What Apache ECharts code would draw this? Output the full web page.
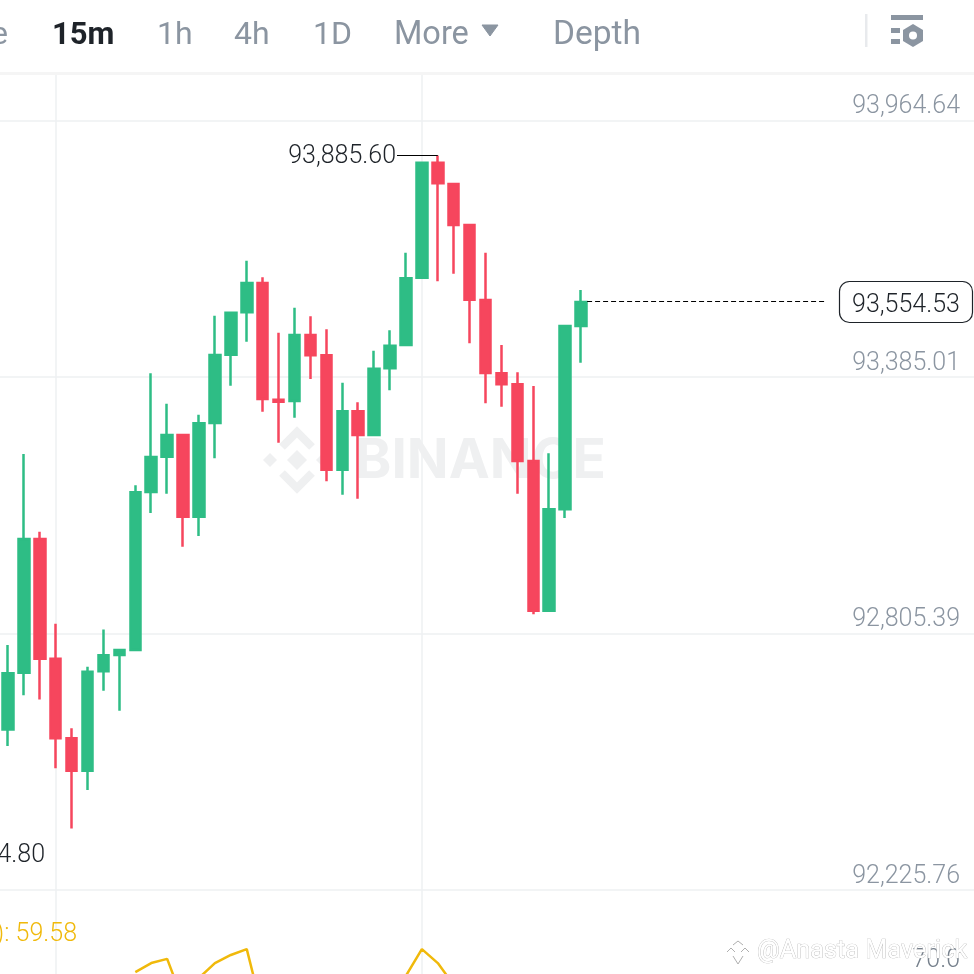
<!DOCTYPE html>
<html>
<head>
    <meta charset="utf-8">
    <title>BTC 15m</title>
    <script src="https://cdn.jsdelivr.net/npm/echarts@6/dist/echarts.min.js"></script>
    <style>
        html, body { margin: 0; padding: 0; background: #fff; overflow: hidden; }
        #chart1 { width: 974px; height: 974px; }
    </style>
</head>
<body>
<div id="chart1"></div>
<script type="text/javascript">
    // price values, oldest candle first
    var opens = [92588.7, 92716.6, 93018.8, 92748.3, 92568.4, 92495.1, 92719.8, 92756.6, 92767.9, 93125.0,
        93204.8, 93253.8, 93069.2, 93280.9, 93435.3, 93531.1, 93597.3, 93333.6, 93331.0, 93479.8,
        93434.0, 93175.4, 93307.4, 93253.8, 93404.6, 93457.2, 93609.3, 93869.2, 93821.1, 93728.4,
        93559.0, 93393.3, 93368.4, 93195.1, 92856.7, 93085.9, 93500.2];
    var closes = [92715.3, 93018.8, 92748.3, 92568.4, 92495.1, 92718.9, 92756.0, 92767.9, 93124.3, 93204.1,
        93253.8, 93069.2, 93280.3, 93434.6, 93530.2, 93597.3, 93335.2, 93329.1, 93479.8, 93434.0,
        93175.4, 93307.4, 93253.8, 93403.7, 93455.6, 93608.0, 93869.2, 93822.7, 93728.4, 93559.6,
        93393.9, 93368.4, 93195.1, 92856.7, 93085.9, 93500.2, 93554.53];
    var lows = [92551.0, 92665.6, 92656.5, 92500.6, 92364.8, 92451.5, 92675.9, 92630.7, 92767.9, 93077.6,
        93121.2, 93001.4, 93025.6, 93201.2, 93365.2, 93464.7, 93306.5, 93236.4, 93292.9, 93380.4,
        93149.2, 93118.9, 93109.9, 93253.8, 93354.9, 93457.2, 93609.3, 93601.2, 93618.4, 93461.1,
        93325.5, 93317.8, 93121.2, 92848.6, 92856.7, 93066.2, 93417.2];
    var highs = [92779.2, 93210.9, 93035.3, 92827.4, 92591.0, 92730.2, 92814.7, 92769.5, 93140.2, 93393.3,
        93324.6, 93254.5, 93299.7, 93523.4, 93530.2, 93647.7, 93610.2, 93485.0, 93541.5, 93522.1,
        93492.7, 93372.0, 93327.7, 93444.3, 93490.5, 93665.8, 93869.2, 93885.6, 93823.4, 93728.4,
        93665.8, 93457.2, 93395.5, 93364.6, 93212.5, 93500.2, 93581.5];
    // RSI(6), null where the line is below the bottom of the picture
    var rsi = [null, null, null, null, null, null, null, null, 70.7, 73.9,
        75.4, 60.4, 68.6, 73.9, 76.8, 78.9, 56.2, null, null, null,
        null, null, null, null, null, 69.4, 78.9, 73.9, 66.1, null,
        null, null, null, null, null, null, 59.58];

    var priceTicks = [93964.64, 93385.01, 92805.39, 92225.76];
    var priceMin = 92225.76;
    var priceMax = 94069.7;
    var rsiTicks = [70];
    var rsiMin = 70;
    var rsiMax = 100;
    var lastPrice = 93554.53;
    var highPrice = 93885.6;
    var lowPrice = 92364.8;
    var highIndex = 27;
    var lowIndex = 4;
    var lastIndex = 36;
    var timeMarks = [3, 26]; // vertical grid lines
    var categories = [];
    for (var i = 0; i < 62; i++) categories.push(String(i));

    var UP = '#2EBD85', DOWN = '#F6465D', GREY = '#8B95A1', DARK = '#1E2329', LINE = '#EEF0F2';
    var FONT = 'Roboto';

    function fmt(v) {
        return v.toLocaleString('en-US', {minimumFractionDigits: 2, maximumFractionDigits: 2});
    }

    function xAxisOf(gridIndex) {
        return {
            type: 'category', gridIndex: gridIndex, data: categories, boundaryGap: true,
            axisLine: {show: false}, axisTick: {show: false}, axisLabel: {show: false},
            splitLine: {
                show: true, alignWithLabel: true,
                interval: function (idx) { return timeMarks.indexOf(idx) >= 0; },
                lineStyle: {color: LINE, width: 1.5}
            }
        };
    }

    function yLabel(digits) {
        return {
            inside: true, margin: 27, color: GREY, fontFamily: FONT, fontSize: 25, fontWeight: 300,
            verticalAlign: 'bottom', padding: [0, 0, 1, 0],
            formatter: digits
        };
    }

    function txt(x, y, text, color, size, align, weight) {
        return {
            type: 'text', x: x, y: y, z: 5, silent: true,
            style: {
                text: text, fill: color, fontSize: size, fontFamily: FONT,
                fontWeight: weight || 400, align: align || 'left', verticalAlign: 'middle'
            }
        };
    }

    var myChart1 = echarts.init(document.getElementById('chart1'), null, {renderer: 'canvas'});
    myChart1.setOption({
        animation: false,
        backgroundColor: '#fff',
        grid: [
            {left: 0, top: 74, width: 987.04, height: 816, outerBoundsMode: 'none'},
            {left: 0, top: 890, width: 987.04, height: 84, outerBoundsMode: 'none'}
        ],
        xAxis: [xAxisOf(0), xAxisOf(1)],
        yAxis: [
            {
                type: 'value', gridIndex: 0, position: 'right', min: priceMin, max: priceMax,
                axisLine: {show: false},
                axisTick: {show: false, customValues: priceTicks},
                axisLabel: Object.assign(yLabel(function (v) { return fmt(v); }), {customValues: priceTicks}),
                splitLine: {show: true, lineStyle: {color: LINE, width: 1.5}}
            },
            {
                type: 'value', gridIndex: 1, position: 'right', min: rsiMin, max: rsiMax,
                axisLine: {show: false},
                axisTick: {show: false, customValues: rsiTicks},
                axisLabel: Object.assign(yLabel(function (v) { return v.toFixed(1); }), {customValues: rsiTicks, color: '#76808C'}),
                splitLine: {show: false}
            }
        ],
        series: [
            {
                type: 'candlestick', xAxisIndex: 0, yAxisIndex: 0, barWidth: 11,
                data: opens.map(function (o, k) { return [o, closes[k], lows[k], highs[k]]; }),
                itemStyle: {
                    color: UP, color0: DOWN, borderColor: UP, borderColor0: DOWN,
                    borderColorDoji: DOWN, borderWidth: 2.5
                }
            },
            {
                type: 'line', xAxisIndex: 1, yAxisIndex: 1, data: rsi, showSymbol: false,
                connectNulls: false, clip: true,
                lineStyle: {color: '#F0B90B', width: 2.5}
            }
        ]
    });

    // annotations hang off the library's scale
    var lastPt = myChart1.convertToPixel({seriesIndex: 0}, [lastIndex, lastPrice]);
    var highPt = myChart1.convertToPixel({seriesIndex: 0}, [highIndex, highPrice]);
    var lowPt = myChart1.convertToPixel({seriesIndex: 0}, [lowIndex, lowPrice]);
    var lastY = Math.floor(lastPt[1]) + 0.5;
    var highY = Math.floor(highPt[1]) + 0.5;

    var header = [
        txt(8, 36, 'Time', GREY, 32, 'right'),
        txt(52, 36, '15m', DARK, 31, 'left', 700),
        txt(157, 36, '1h', GREY, 32),
        txt(234, 36, '4h', GREY, 32),
        txt(313, 36, '1D', GREY, 32),
        txt(394, 36, 'More', GREY, 32.5),
        txt(553, 36, 'Depth', GREY, 33.5),
        {type: 'polygon', z: 5, shape: {points: [[482, 25], [498, 25], [490, 36]]}, style: {fill: GREY, stroke: GREY, lineWidth: 1, lineJoin: 'round'}},
        {type: 'rect', z: 5, shape: {x: 865, y: 14, width: 2.5, height: 33}, style: {fill: '#E8EAED'}},
        {type: 'rect', z: 5, shape: {x: 891, y: 15, width: 32, height: 5}, style: {fill: GREY}},
        {type: 'rect', z: 5, shape: {x: 891, y: 28, width: 9, height: 5}, style: {fill: GREY}},
        {type: 'rect', z: 5, shape: {x: 891, y: 39, width: 9, height: 5}, style: {fill: GREY}},
        {type: 'polygon', z: 5, shape: {points: [[913, 24], [923, 30], [923, 41], [913, 47], [903, 41], [903, 30]]}, style: {fill: GREY}},
        {type: 'circle', z: 6, shape: {cx: 913, cy: 35.5, r: 4}, style: {fill: '#fff'}},
        {type: 'rect', z: 1, shape: {x: 0, y: 72, width: 974, height: 3}, style: {fill: '#F5F5F5'}}
    ];

    var wmColor = '#EFF0F1';
    var watermark = [
        {type: 'polygon', z: 0, shape: {points: [[297, 450], [307, 460], [297, 470], [287, 460]]}, style: {fill: wmColor}},
        {type: 'polygon', z: 0, shape: {points: [[270, 453], [277, 460], [270, 467], [263, 460]]}, style: {fill: wmColor}},
        {type: 'polygon', z: 0, shape: {points: [[323, 453], [330, 460], [323, 467], [316, 460]]}, style: {fill: wmColor}},
        {type: 'polyline', z: 0, shape: {points: [[282, 447], [297, 432], [312, 447]]}, style: {stroke: wmColor, lineWidth: 8, fill: null}},
        {type: 'polyline', z: 0, shape: {points: [[282, 473], [297, 488], [312, 473]]}, style: {stroke: wmColor, lineWidth: 8, fill: null}},
        {type: 'text', x: 355, y: 461, z: 0, silent: true, style: {text: 'BINANCE', fill: wmColor, fontSize: 55, fontFamily: 'Inter', fontWeight: 700, verticalAlign: 'middle'}}
    ];

    var notes = [
        {type: 'line', z: 5, shape: {x1: lastPt[0] + 6, y1: lastY, x2: 825, y2: lastY}, style: {stroke: '#000', lineWidth: 1, lineDash: [5, 3]}},
        {type: 'rect', z: 5, shape: {x: 839.5, y: 281.5, width: 133, height: 41, r: 10}, style: {fill: '#fff', stroke: DARK, lineWidth: 1.2}},
        txt(906, 306, fmt(lastPrice), DARK, 25, 'center', 300),
        {type: 'line', z: 5, shape: {x1: 397, y1: highY, x2: highPt[0], y2: highY}, style: {stroke: '#000', lineWidth: 1}},
        txt(396, 157, fmt(highPrice), DARK, 25, 'right', 300),
        txt(45, lowPt[1] + 27, fmt(lowPrice), DARK, 25, 'right', 300),
        txt(77, 935, 'RSI(6): ' + fmt(rsi[lastIndex]), '#F0B90B', 25, 'right', 300)
    ];

    var credit = [
        {type: 'polyline', z: 7, shape: {points: [[727, 952], [731, 948], [735, 952]]}, style: {stroke: '#AFAFAF', lineWidth: 1, fill: null}},
        {type: 'polyline', z: 7, shape: {points: [[741, 952], [745, 948], [749, 952]]}, style: {stroke: '#AFAFAF', lineWidth: 1, fill: null}},
        {type: 'polyline', z: 7, shape: {points: [[733, 945], [738, 941], [743, 945]]}, style: {stroke: '#AFAFAF', lineWidth: 1, fill: null}},
        {type: 'polyline', z: 7, shape: {points: [[733, 956], [738, 964], [743, 956]]}, style: {stroke: '#AFAFAF', lineWidth: 1, fill: null}},
        {type: 'text', x: 757, y: 952, z: 7, silent: true, style: {text: '@Anasta Maverick', fill: '#fff', stroke: '#B5B5B5', lineWidth: 0.7, fontSize: 25.3, fontFamily: 'Roboto', verticalAlign: 'middle'}}
    ];

    myChart1.setOption({graphic: {elements: header.concat(watermark, notes, credit)}});
</script>
</body>
</html>
